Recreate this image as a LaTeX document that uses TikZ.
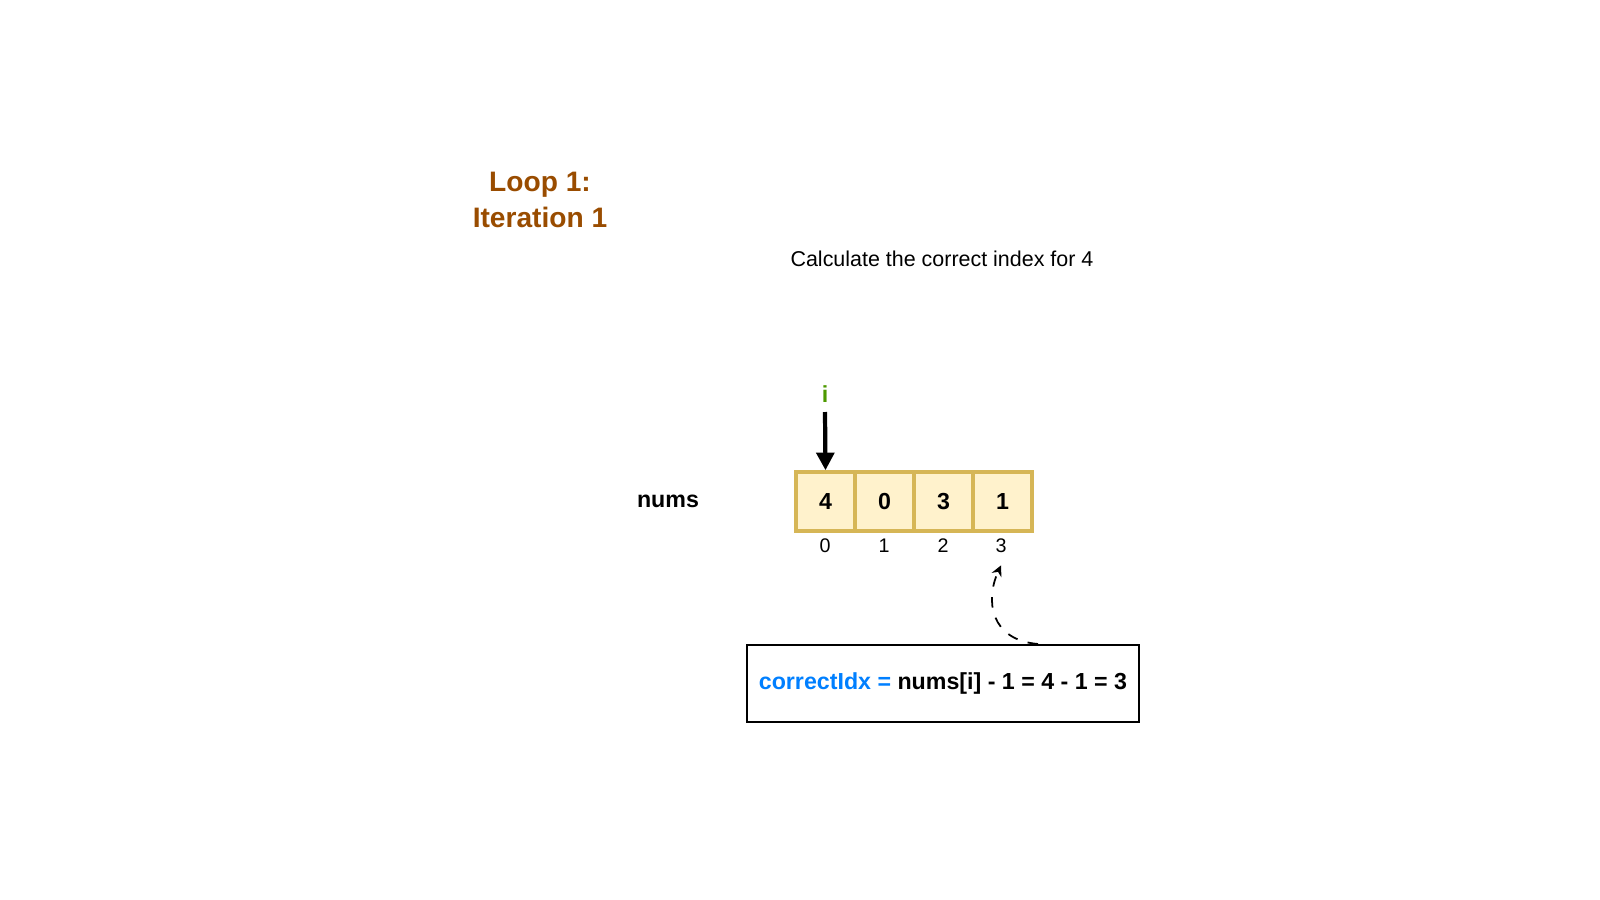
\documentclass[tikz,border=0pt]{standalone}
\usepackage{fontspec}
\setmainfont{Liberation Sans}
\usetikzlibrary{arrows.meta}
\definecolor{titlec}{HTML}{994C00}
\definecolor{cellfill}{HTML}{FFF2CC}
\definecolor{celldraw}{HTML}{D6B656}
\definecolor{greenc}{HTML}{4D9900}
\definecolor{bluec}{HTML}{007FFF}
\begin{document}
\begin{tikzpicture}[x=0.01cm,y=-0.01cm,
  cell/.style={draw=celldraw,fill=cellfill,line width=1pt,minimum width=0.59cm,minimum height=0.59cm,inner sep=0pt,font=\fontsize{6.6}{8}\selectfont\bfseries},
  idx/.style={font=\fontsize{5.6}{7}\selectfont},
  ]
\useasboundingbox (0,0) rectangle (1600,900);
\node[text=titlec,font=\fontsize{8}{10.3}\selectfont\bfseries,align=center] (title) at (540,200) {Loop 1:\\Iteration 1};
\node[font=\fontsize{6.1}{7}\selectfont] (calc) at (942,259) {Calculate the correct index for 4};
\node[text=greenc,font=\fontsize{6.6}{8}\selectfont\bfseries] (i) at (825,394) {i};
\node[font=\fontsize{6.6}{8}\selectfont\bfseries] (nums) at (668,501) {nums};
\node[cell] (c0) at (825.5,501.5) {4};
\node[cell] (c1) at (884.5,501.5) {0};
\node[cell] (c2) at (943.5,501.5) {3};
\node[cell] (c3) at (1002.5,501.5) {1};
\node[idx] (i0) at (825,546) {0};
\node[idx] (i1) at (884,546) {1};
\node[idx] (i2) at (943,546) {2};
\node[idx] (i3) at (1001,546) {3};
\coordinate (as) at (825,412);
\draw[line width=1.2pt,-{Triangle[length=5pt,width=5pt]}] (as) -- (c0.north);
\node[draw,minimum width=3.82cm,minimum height=0.77cm,font=\fontsize{6.6}{8}\selectfont\bfseries] (box) at (943,683.5) {\textcolor{bluec}{correctIdx =} nums[i] - 1 = 4 - 1 = 3};
\coordinate (bs) at (1038,644);
\draw[dashed,line width=0.5pt,-{Stealth[length=3pt,width=3pt]}] (bs) .. controls (990,640) and (985,600) .. (i3.south);
\end{tikzpicture}
\end{document}
